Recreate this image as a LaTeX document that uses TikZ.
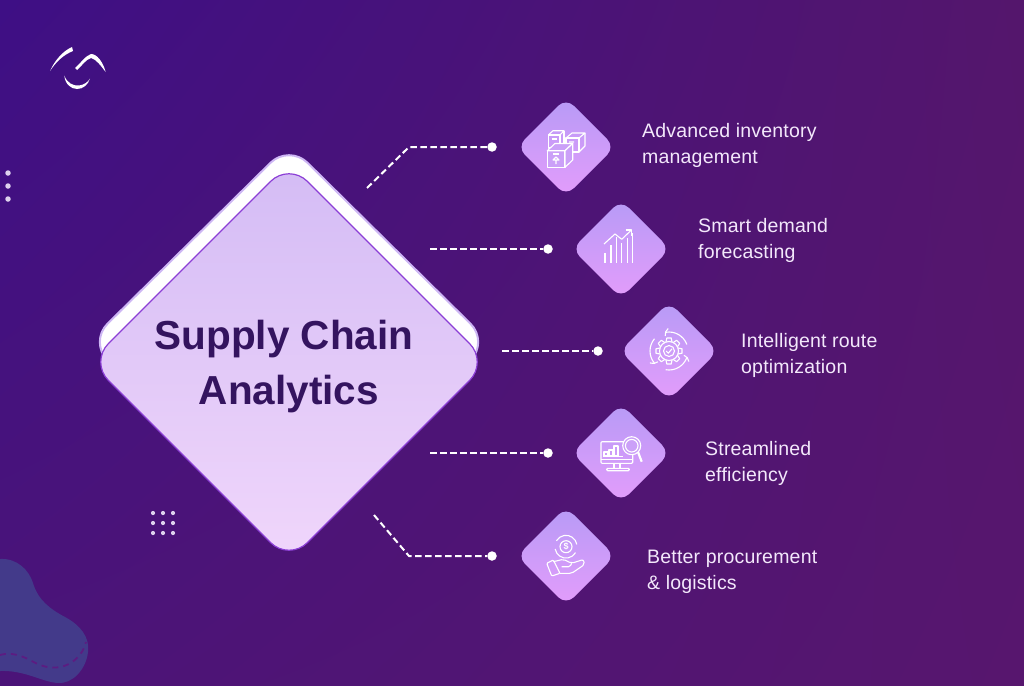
\documentclass[tikz,border=0pt]{standalone}
\usepackage{fontspec}
\setmainfont{Liberation Sans}
\newfontfamily\capfont{Liberation Sans}[LetterSpace=1]
\usetikzlibrary{shapes.geometric,positioning,shadings}
\definecolor{bgTL}{HTML}{3E0F85}
\definecolor{bgBL}{HTML}{4B1478}
\definecolor{bgTR}{HTML}{54166C}
\definecolor{bgBR}{HTML}{57166E}
\definecolor{titleink}{HTML}{34145F}
\definecolor{labelink}{HTML}{F3E8FB}
\definecolor{dotink}{HTML}{DED2EE}
\definecolor{blobfill}{HTML}{433A8A}
\definecolor{blobdash}{HTML}{5C1C82}
\definecolor{hubtop}{HTML}{B79BF6}
\definecolor{hubbot}{HTML}{E39CFB}
\definecolor{lensfill}{HTML}{CBA0F8}
\definecolor{maintop}{HTML}{D4BCF5}
\definecolor{mainbot}{HTML}{F0D6FB}
\definecolor{mainedge}{HTML}{8C3FD6}
\definecolor{backedge}{HTML}{CDB6F4}
\tikzset{
  boxesicon/.pic={
    % back left box
    \draw[icon] (-17.7,-12) rectangle (-6,1);
    \draw[icon] (-17.7,-12) -- (-13,-16.3) -- (-2,-16.3) -- (-6,-12);
    \draw[icon] (-2,-16.3) -- (-2,-4) (-14.5,-8) -- (-9.5,-8);
    % back right box
    \draw[icon] (0,-9) rectangle (13,5);
    \draw[icon] (0,-9) -- (6,-14) -- (19,-14) -- (13,-9);
    \draw[icon] (13,5) -- (19,-1) -- (19,-14) (3,-5) -- (8,-5);
    % front box
    \draw[icon,fill=lensfill] (-18.7,3.7) rectangle (-1,20.3);
    \draw[icon,fill=lensfill] (-18.7,3.7) -- (-11,-3.5) -- (6.7,-3.5) -- (-1,3.7) -- cycle;
    \draw[icon,fill=lensfill] (-1,3.7) -- (6.7,-3.5) -- (6.7,13) -- (-1,20.3) -- cycle;
    \draw[icon] (-13,7) -- (-7,7);
    \draw[icon] (-10,17) -- (-10,13) (-13,13) -- (-10,10) -- (-7,13) -- cycle;
  },
  charticon/.pic={
    \foreach \xbar/\ybar in {-16/4.3,-10/-4,-4.3/-12.3,0.7/-6,6.3/-11,11.7/-16}
      \draw[icon] (\xbar,13.7) -- (\xbar,\ybar);
    \draw[icon] (-17,-5) -- (-6,-15) -- (0.7,-9.7) -- (9.7,-18.3);
    \draw[icon] (4.5,-19) -- (10.5,-19) -- (10.5,-13);
  },
  gearicon/.pic={
    \draw[icon] (0,0) circle (9.5);
    \foreach \a in {0,45,...,315}
      \draw[icon,rotate=\a] (8.9,-3) -- (13,-2.2) -- (13,2.2) -- (8.9,3);
    \draw[icon] (0,0) circle (5.5);
    \draw[icon] (-2.8,0) -- (-0.7,2.2) -- (3,-2.2);
    \foreach \a in {0,120,240}{
      \draw[icon,rotate=\a] (20:19) arc (20:100:19);
      \draw[icon,rotate=\a] (16:15.5) -- (20:19.4) -- (28:22.5);
    }
  },
  monitoricon/.pic={
    \draw[icon,rounded corners=1pt] (-20,-11.3) rectangle (11.7,10.3);
    \draw[icon] (-20,6.5) -- (11.7,6.5);
    \draw[icon] (-7,10.3) -- (-7,15.3) (-1,10.3) -- (-1,15.3);
    \draw[icon,rounded corners=1pt] (-14.3,15.3) rectangle (8.3,17.7);
    \foreach \xbar/\ybar in {-15/-1,-10/-3,-5/-7}
      \draw[icon] (\xbar-2,3) rectangle (\xbar+2,\ybar);
    \draw[icon] (-18,3.5) -- (2,3.5);
    \draw[icon,fill=lensfill] (10.7,-7.3) circle (9);
    \draw[icon] (10.7,-7.3) circle (6.3);
    \draw[icon,line width=2.2pt] (17,-1) -- (20.7,8.7);
  },
  coinicon/.pic={
    \draw[icon] (0,-9.3) circle (6);
    \node[icon text] (coinsign) at (0,-9.3) {\$};
    \draw[icon] (-10.8,-7) arc (170:30:11);
    \draw[icon] (10.8,-11.6) arc (-10:-150:11);
    \draw[icon,rounded corners=1pt] (-19.3,7.3) -- (-12.7,4) -- (-6,17.3) -- (-14.3,20) -- cycle;
    \draw[icon,rounded corners=2pt] (-12.7,5.7) -- (-2.7,3.3) -- (5.7,7.3) -- (17.3,3.5) -- (18.5,8.5) -- (5.7,17.3) -- (-6,17.3);
    \draw[icon,rounded corners=1.5pt] (5.7,7.3) -- (4,10.7) -- (-4.3,10.7);
  }
}
\begin{document}
\begin{tikzpicture}[x=1pt,y=-1pt]
  \tikzstyle{icon}=[draw=white,line width=1.1pt,line join=round]
  \tikzstyle{icon text}=[inner sep=0pt,text=white,font=\fontsize{9}{9}\selectfont\bfseries]
  \tikzstyle{hub}=[diamond,rounded corners=11pt,minimum width=98pt,minimum height=98pt,inner sep=0pt,outer sep=0pt,top color=hubtop,bottom color=hubbot]
  \tikzstyle{link}=[draw=white,line width=2pt,dash pattern=on 6.5pt off 3.5pt]
  \tikzstyle{linkdot}=[circle,fill=white,inner sep=0pt,minimum width=9.5pt,minimum height=9.5pt]
  \tikzstyle{caption}=[inner sep=0pt,align=left,text=labelink,font=\capfont\fontsize{19.5}{26}\selectfont]
  \tikzstyle{speck}=[circle,fill=dotink,inner sep=0pt]

  % Background
  \shade[lower left=bgBL,upper left=bgTL,upper right=bgTR,lower right=bgBR] (0,0) rectangle (1024,685);
  \useasboundingbox (0,0) rectangle (1024,685);

  % Logo
  \fill[white] (50,71) .. controls (55,60) and (63,51) .. (72,47) -- (73,51) .. controls (63,55) and (56,62) .. (50,71);
  \fill[white] (75,68) .. controls (80,64) and (85,56) .. (91,54) .. controls (97,54) and (103,62) .. (105.7,72) .. controls (101,66) and (96,59) .. (91,58) .. controls (86,59) and (81,67) .. (77,70) -- cycle;
  \fill[white] (64.3,75.5) .. controls (67,83) and (73,86) .. (79,85.5) .. controls (84,85) and (88,82) .. (90,78.5) .. controls (88,85) and (83,89) .. (77,89) .. controls (71,89) and (65,84) .. (64.3,75.5);

  % Side dots
  \foreach \ydot in {173,186,199}
    \node[speck,minimum size=5.5pt] (side\ydot) at (8,\ydot) {};

  % Dot grid
  \foreach \xdot in {153,163,173}
    \foreach \ydot in {513,523,533}
      \node[speck,minimum size=4.2pt] (grid\xdot\ydot) at (\xdot,\ydot) {};

  % Corner blob
  \fill[blobfill] (0,559) .. controls (17,558) and (29,570) .. (33,583) .. controls (38,600) and (50,609) .. (65,617) .. controls (80,625) and (90,637) .. (88,652) .. controls (86,670) and (72,684) .. (58,683) .. controls (42,682) and (25,670) .. (0,671) -- cycle;
  \draw[blobdash,line width=1.8pt,dash pattern=on 6pt off 5pt] (0,655) .. controls (10,652) and (20,655) .. (30,660) .. controls (40,666) and (50,669) .. (60,667) .. controls (72,665) and (83,655) .. (86,642);

  % Main diamonds
  \node[diamond,rounded corners=26pt,minimum width=400pt,minimum height=395pt,inner sep=0pt,outer sep=0pt,fill=white,draw=backedge,line width=2pt] (mainback) at (289,342) {};
  \node[diamond,rounded corners=26pt,minimum width=398pt,minimum height=398pt,inner sep=0pt,outer sep=0pt,top color=maintop,bottom color=mainbot,draw=mainedge,line width=1.2pt] (mainfront) at (289,362) {};
  \node[inner sep=0pt,align=center,text=titleink,font=\fontsize{40.5}{55}\selectfont\bfseries] (maintitle) at ([yshift=-5pt]mainfront.center) {Supply Chain\hspace*{10pt}\\Analytics};

  % Hubs
  \node[hub] (hubA) at (566,147) {};
  \node[hub] (hubB) at (621,249) {};
  \node[hub] (hubC) at (669,351) {};
  \node[hub] (hubD) at (621,453) {};
  \node[hub] (hubE) at (566,556) {};

  % Icons
  \pic at (hubA) {boxesicon};
  \pic at (hubB) {charticon};
  \pic at (hubC) {gearicon};
  \pic at (hubD) {monitoricon};
  \pic at (hubE) {coinicon};

  % Captions
  \node[caption,right=27pt of hubA,yshift=1.5pt] (capA) {Advanced inventory\\management};
  \node[caption,right=28pt of hubB,yshift=9pt] (capB) {Smart demand\\forecasting};
  \node[caption,right=23pt of hubC,yshift=-4pt] (capC) {Intelligent route\\optimization};
  \node[caption,right=35pt of hubD,yshift=-10pt] (capD) {Streamlined\\efficiency};
  \node[caption,right=32pt of hubE,yshift=-16pt] (capE) {Better procurement\\\& logistics};

  % Connector ends
  \node[linkdot] (dotA) at (492,147) {};
  \node[linkdot] (dotB) at (548,249) {};
  \node[linkdot] (dotC) at (598,351) {};
  \node[linkdot] (dotD) at (548,453) {};
  \node[linkdot] (dotE) at (492,556) {};
  \coordinate (startA) at (367,188);
  \coordinate (startB) at (430,249);
  \coordinate (startC) at (502,351);
  \coordinate (startD) at (430,453);
  \coordinate (startE) at (374,515);
  \coordinate (kneeA) at (409,147);
  \coordinate (kneeE) at (409,556);

  % Connectors
  \draw[link] (startA) -- (kneeA) -- (dotA);
  \draw[link] (startB) -- (dotB);
  \draw[link] (startC) -- (dotC);
  \draw[link] (startD) -- (dotD);
  \draw[link] (startE) -- (kneeE) -- (dotE);
\end{tikzpicture}
\end{document}
